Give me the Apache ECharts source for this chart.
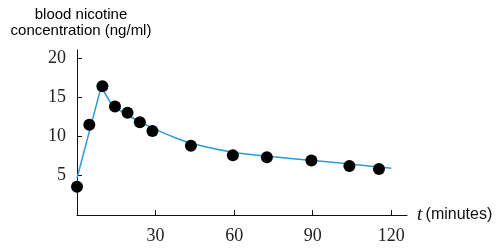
<!DOCTYPE html>
<html>
<head>
<meta charset="utf-8">
<script src="https://cdn.jsdelivr.net/npm/echarts@6/dist/echarts.min.js"></script>
<style>html,body{margin:0;padding:0;background:#fff}#c{width:502px;height:248px}</style>
</head>
<body>
<div id="c"></div>
<script>
// measured data points (t in minutes, concentration ng/ml)
var times = [0, 4.7, 9.7, 14.5, 19.3, 24, 28.8, 43.5, 59.5, 72.5, 89.5, 104, 115.3];
var conc  = [3.6, 11.5, 16.4, 13.8, 13.0, 11.8, 10.7, 8.8, 7.6, 7.35, 6.95, 6.25, 5.85];
// model curve: rise then decay
var riseT  = [0, 9.3];
var riseC  = [4.7, 16.4];
var decayT = [9.3, 13.6, 20, 25, 30, 37, 45, 60, 75, 90, 105, 120];
var decayC = [16.4, 14.0, 12.6, 11.7, 10.9, 9.9, 9.0, 7.95, 7.4, 6.95, 6.45, 5.95];
var xTicks = [30, 60, 90, 120];
var yTicks = [5, 10, 15, 20];

function zip(a, b) { return a.map(function (v, i) { return [v, b[i]]; }); }

var chart = echarts.init(document.getElementById('c'));
chart.setOption({
  animation: false,
  grid: { left: 77, top: 50, right: 95, bottom: 33 },
  title: {
    text: 'blood nicotine\nconcentration (ng/ml)',
    left: 76, top: 2, textAlign: 'center',
    textStyle: { fontFamily: 'Liberation Sans', fontSize: 15, fontWeight: 'normal', color: '#000', lineHeight: 16 }
  },
  xAxis: {
    type: 'value', min: 0, max: 126,
    axisLine: { lineStyle: { color: '#111', width: 1 } },
    axisTick: { inside: true, length: 5, lineStyle: { color: '#111' }, customValues: xTicks },
    axisLabel: { customValues: xTicks, fontFamily: 'Liberation Serif', fontSize: 18, color: '#222', margin: 12 },
    splitLine: { show: false },
    name: '{t|t} {m|(minutes)}',
    nameLocation: 'end', nameGap: 10,
    nameTextStyle: {
      rich: {
        t: { fontFamily: 'Liberation Serif', fontStyle: 'italic', fontSize: 19, color: '#111' },
        m: { fontFamily: 'Liberation Sans', fontSize: 16, color: '#111' }
      }
    }
  },
  yAxis: {
    type: 'value', min: 0, max: 21,
    axisLine: { lineStyle: { color: '#111', width: 1 } },
    axisTick: { inside: true, length: 5, lineStyle: { color: '#111' }, customValues: yTicks },
    axisLabel: { customValues: yTicks, fontFamily: 'Liberation Serif', fontSize: 18, color: '#222', margin: 11 },
    splitLine: { show: false }
  },
  series: [
    { type: 'line', data: zip(riseT, riseC), symbol: 'none', lineStyle: { color: '#2a9bd8', width: 1.5 }, z: 2 },
    { type: 'line', data: zip(decayT, decayC), symbol: 'none', smooth: 0.3, lineStyle: { color: '#2a9bd8', width: 1.5 }, z: 2 },
    { type: 'scatter', data: zip(times, conc), symbolSize: 12, itemStyle: { color: '#000', opacity: 1 }, z: 3 }
  ]
});
</script>
</body>
</html>
